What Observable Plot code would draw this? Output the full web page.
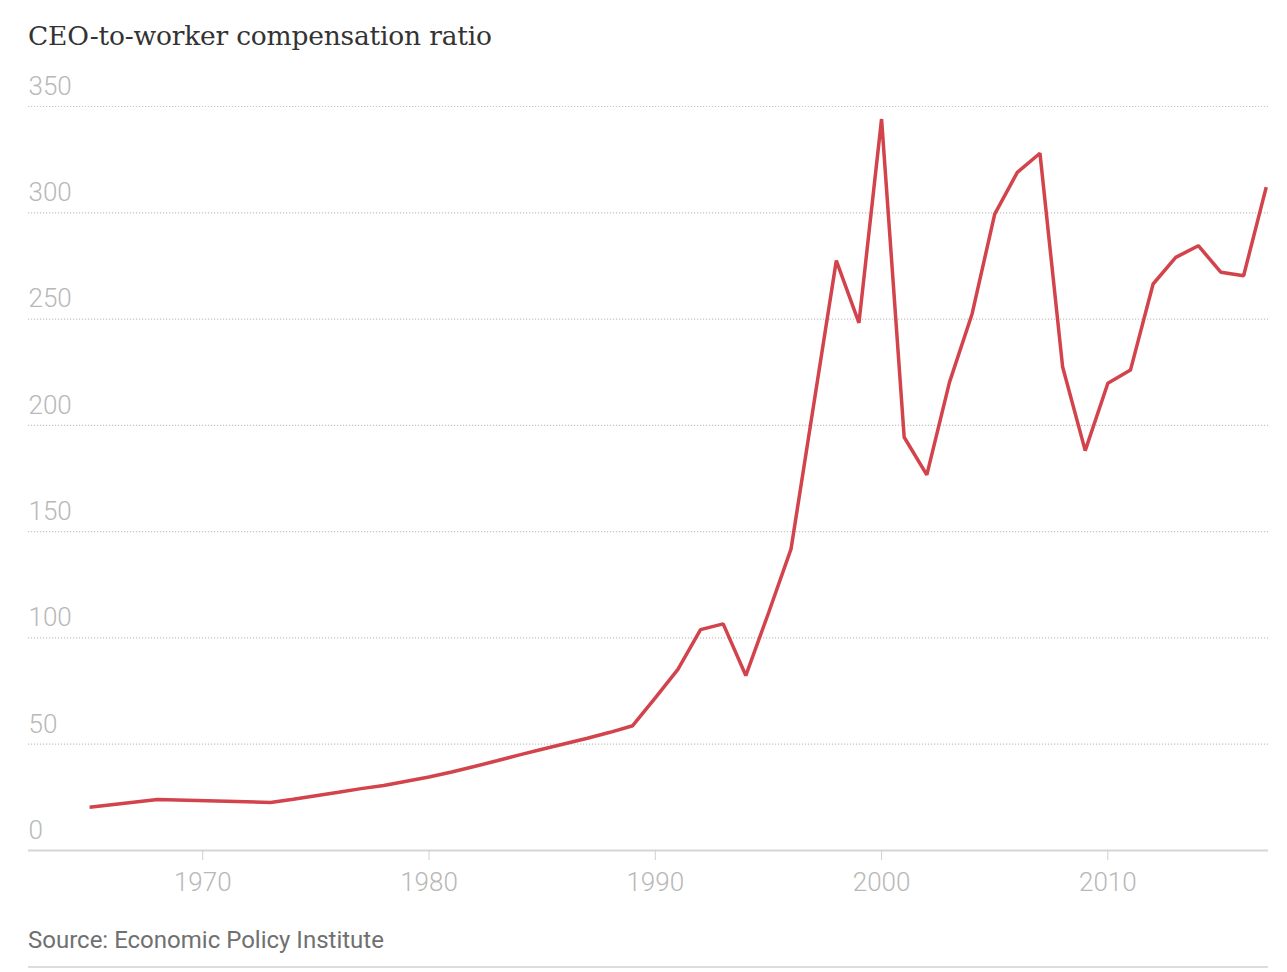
<!DOCTYPE html>
<html>
<head>
<meta charset="utf-8">
<script src="https://cdn.jsdelivr.net/npm/d3@7"></script>
<script src="https://cdn.jsdelivr.net/npm/@observablehq/plot@0.6"></script>
<style>
  html, body { margin: 0; padding: 0; background: #fff; }
  #page { position: relative; width: 1287px; height: 972px; }
  #title {
    position: absolute; left: 28px; top: 20px;
    font-family: "DejaVu Serif", serif; font-size: 26.5px; color: #333;
    letter-spacing: -0.2px;
  }
  #chart { position: absolute; left: 0; top: 60px; }
  #source {
    position: absolute; left: 28px; top: 926px;
    font-family: Roboto, "Open Sans", sans-serif; font-size: 24px; color: #707070;
  }
  #rule { position: absolute; left: 28px; top: 966px; width: 1240px; height: 2px; background: #dcdcdc; }
</style>
</head>
<body>
<div id="page">
  <div id="title">CEO-to-worker compensation ratio</div>
  <div id="chart"></div>
  <div id="source">Source: Economic Policy Institute</div>
  <div id="rule"></div>
</div>
<script>
// CEO-to-worker compensation ratio by year
const years = [
  1965, 1968, 1973, 1974, 1975, 1976, 1977, 1978, 1979, 1980,
  1981, 1982, 1983, 1984, 1985, 1986, 1987, 1988, 1989, 1990,
  1991, 1992, 1993, 1994, 1995, 1996, 1997, 1998, 1999, 2000,
  2001, 2002, 2003, 2004, 2005, 2006, 2007, 2008, 2009, 2010,
  2011, 2012, 2013, 2014, 2015, 2016, 2017
];
const ratios = [
  20.3, 24.0, 22.6, 24.1, 25.8, 27.4, 29.1, 30.6, 32.6, 34.6,
  36.9, 39.5, 42.2, 45.0, 47.6, 50.2, 52.8, 55.6, 58.7, 71.8,
  85.2, 103.9, 106.6, 82.3, 111.6, 141.9, 209.7, 277.5, 248.2, 344.1,
  194.4, 176.7, 220.2, 252.4, 299.4, 319.0, 328.0, 227.6, 188.1, 219.8,
  226.0, 266.5, 279.0, 284.5, 272.0, 270.4, 312.1
];
const yTicks = [0, 50, 100, 150, 200, 250, 300, 350];
const xTicks = [1970, 1980, 1990, 2000, 2010];

const data = years.map((year, i) => ({year, ratio: ratios[i]}));

const sans = "Roboto, 'Open Sans', sans-serif";

const chart = Plot.plot({
  width: 1287,
  height: 845,
  marginLeft: 28,
  marginRight: 19,
  marginTop: 46,
  marginBottom: 55,
  style: {fontFamily: sans, background: "transparent", overflow: "visible"},
  x: {domain: [1962.3, 2017.1]},
  y: {domain: [0, 350]},
  marks: [
    // dotted horizontal gridlines
    Plot.ruleY(yTicks.filter(d => d > 0), {
      stroke: "#c4c4c4", strokeWidth: 1.2, strokeDasharray: "1.2,1.8"
    }),
    // solid baseline
    Plot.ruleY([0], {stroke: "#d6d6d6", strokeWidth: 2}),
    Plot.axisY({
      ticks: yTicks,
      tickSize: 0,
      tickPadding: 0,
      textAnchor: "start",
      dy: -20,
      fontSize: 26,
      fontWeight: 300,
      fill: "#b8b8b8",
      label: null
    }),
    Plot.axisX({
      ticks: xTicks,
      tickFormat: d => String(d),
      tickSize: 10,
      tickPadding: 12,
      stroke: "#d0d0d0",
      fontSize: 26,
      fontWeight: 300,
      fill: "#b8b8b8",
      label: null
    }),
    Plot.line(data, {
      x: "year", y: "ratio",
      stroke: "#d2434c", strokeWidth: 3.5,
      strokeLinejoin: "miter", strokeLinecap: "butt"
    })
  ]
});

document.getElementById("chart").appendChild(chart);
</script>
</body>
</html>
